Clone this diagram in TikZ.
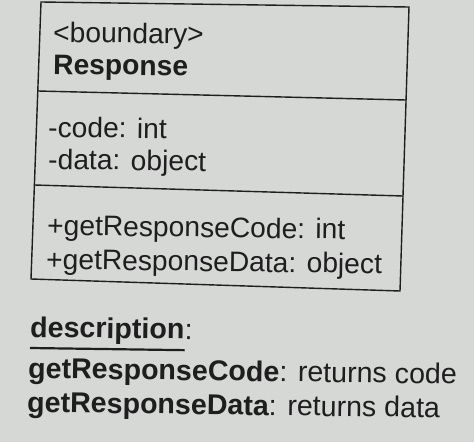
\documentclass[tikz,border=0pt]{standalone}
\usepackage{fontspec}
\setmainfont{Liberation Sans}
\definecolor{bgc}{RGB}{213,216,213}
\definecolor{ink}{RGB}{30,30,30}
\begin{document}
\begin{tikzpicture}[x=1pt,y=-1pt,
  lbl/.style={anchor=base west,inner sep=0pt,text=ink,font=\fontsize{28.2}{34}\selectfont,rotate=-0.8},
  dlbl/.style={lbl,font=\fontsize{28.6}{34}\selectfont},
  frame/.style={draw=ink,line width=1.4pt,line join=miter}]
\fill[bgc] (0,0) rectangle (474,442);
\useasboundingbox (0,0) rectangle (474,442);
% class box corners (slightly skewed, as photographed)
\coordinate (TL) at (41,2);
\coordinate (TR) at (409,7);
\coordinate (D1L) at (37.8,91);
\coordinate (D1R) at (406,100);
\coordinate (D2L) at (34.5,185);
\coordinate (D2R) at (403,196);
\coordinate (BL) at (31,279);
\coordinate (BR) at (400,291);
\draw[frame] (TL) -- (TR) -- (BR) -- (BL) -- cycle;
\draw[frame] (D1L) -- (D1R);
\draw[frame] (D2L) -- (D2R);
% name compartment
\node[lbl] (stereo) at (53,42) {<boundary>};
\node[lbl] (cname) at (53,74) {\bfseries Response};
% attributes
\node[lbl] (attr1) at (48,137) {-code: int};
\node[lbl] (attr2) at (48,169) {-data: object};
% operations
\node[lbl] (op1) at (47,235) {+getResponseCode: int};
\node[lbl] (op2) at (46,269) {+getResponseData: object};
% description
\node[dlbl] (descword) at (30,337) {\bfseries description};
\node[dlbl] (desccolon) at (descword.base east) {:};
\draw[ink,line width=2.2pt] ([yshift=-11pt]descword.base west) -- ([yshift=-11pt]descword.base east);
\node[dlbl] (desc1) at (28,378) {\bfseries getResponseCode\mdseries: returns code};
\node[dlbl] (desc2) at (27,412) {\bfseries getResponseData\mdseries: returns data};
\end{tikzpicture}
\end{document}
